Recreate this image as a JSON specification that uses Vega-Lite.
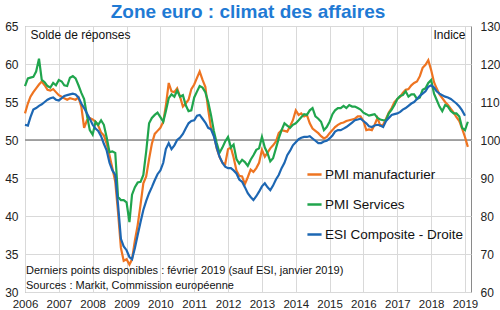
{
"$schema":"https://vega.github.io/schema/vega-lite/v6.json",
"width":446,"height":266,
"autosize":{"type":"none"},
"padding":{"left":25,"top":26,"right":29,"bottom":18},
"background":"white",
"title":{"text":"Zone euro : climat des affaires","fontSize":19,"fontWeight":"bold","color":"#1f7ad4","font":"Liberation Sans","anchor":"middle","offset":-2},
"config":{"font":"Liberation Sans","view":{"stroke":"#8a8a8a","strokeWidth":1},"axis":{"labelFont":"Liberation Sans","labelColor":"#222","labelFontSize":12,"ticks":false,"domain":false,"gridColor":"#d9d9d9","gridWidth":1,"title":null,"labelOverlap":false,"labelFlush":false}},
"data":{"format":{"parse":{"d":"date:'%Y-%m'"}},"values":[
{"d":"2006-01","PMI manufacturier":53.5,"PMI Services":57.1,"ESI Composite - Droite":104.0},
{"d":"2006-02","PMI manufacturier":54.8,"PMI Services":58.1,"ESI Composite - Droite":103.8},
{"d":"2006-03","PMI manufacturier":55.7,"PMI Services":58.2,"ESI Composite - Droite":106.0},
{"d":"2006-04","PMI manufacturier":56.3,"PMI Services":58.3,"ESI Composite - Droite":108.0},
{"d":"2006-05","PMI manufacturier":56.8,"PMI Services":59.0,"ESI Composite - Droite":108.4},
{"d":"2006-06","PMI manufacturier":57.3,"PMI Services":60.7,"ESI Composite - Droite":109.0},
{"d":"2006-07","PMI manufacturier":57.7,"PMI Services":57.9,"ESI Composite - Droite":109.4},
{"d":"2006-08","PMI manufacturier":57.2,"PMI Services":57.6,"ESI Composite - Droite":110.0},
{"d":"2006-09","PMI manufacturier":56.6,"PMI Services":57.1,"ESI Composite - Droite":110.6},
{"d":"2006-10","PMI manufacturier":56.5,"PMI Services":56.9,"ESI Composite - Droite":111.0},
{"d":"2006-11","PMI manufacturier":56.7,"PMI Services":57.5,"ESI Composite - Droite":111.2},
{"d":"2006-12","PMI manufacturier":56.3,"PMI Services":57.2,"ESI Composite - Droite":110.6},
{"d":"2007-01","PMI manufacturier":55.9,"PMI Services":57.9,"ESI Composite - Droite":110.4},
{"d":"2007-02","PMI manufacturier":55.7,"PMI Services":57.7,"ESI Composite - Droite":111.0},
{"d":"2007-03","PMI manufacturier":55.5,"PMI Services":57.2,"ESI Composite - Droite":111.6},
{"d":"2007-04","PMI manufacturier":55.3,"PMI Services":57.1,"ESI Composite - Droite":111.8},
{"d":"2007-05","PMI manufacturier":55.5,"PMI Services":58.2,"ESI Composite - Droite":112.0},
{"d":"2007-06","PMI manufacturier":55.4,"PMI Services":58.4,"ESI Composite - Droite":112.2},
{"d":"2007-07","PMI manufacturier":55.3,"PMI Services":58.1,"ESI Composite - Droite":112.0},
{"d":"2007-08","PMI manufacturier":55.6,"PMI Services":57.2,"ESI Composite - Droite":111.2},
{"d":"2007-09","PMI manufacturier":54.4,"PMI Services":56.2,"ESI Composite - Droite":109.6},
{"d":"2007-10","PMI manufacturier":51.6,"PMI Services":55.4,"ESI Composite - Droite":108.4},
{"d":"2007-11","PMI manufacturier":52.6,"PMI Services":53.2,"ESI Composite - Droite":107.0},
{"d":"2007-12","PMI manufacturier":52.9,"PMI Services":51.3,"ESI Composite - Droite":105.6},
{"d":"2008-01","PMI manufacturier":52.7,"PMI Services":50.7,"ESI Composite - Droite":104.0},
{"d":"2008-02","PMI manufacturier":52.4,"PMI Services":52.4,"ESI Composite - Droite":103.0},
{"d":"2008-03","PMI manufacturier":51.9,"PMI Services":52.0,"ESI Composite - Droite":102.4},
{"d":"2008-04","PMI manufacturier":51.0,"PMI Services":52.6,"ESI Composite - Droite":101.0},
{"d":"2008-05","PMI manufacturier":50.6,"PMI Services":52.0,"ESI Composite - Droite":99.0},
{"d":"2008-06","PMI manufacturier":49.5,"PMI Services":50.3,"ESI Composite - Droite":97.2},
{"d":"2008-07","PMI manufacturier":48.0,"PMI Services":48.4,"ESI Composite - Droite":94.0},
{"d":"2008-08","PMI manufacturier":46.3,"PMI Services":48.5,"ESI Composite - Droite":92.0},
{"d":"2008-09","PMI manufacturier":44.5,"PMI Services":48.3,"ESI Composite - Droite":90.8},
{"d":"2008-10","PMI manufacturier":40.5,"PMI Services":42.5,"ESI Composite - Droite":83.0},
{"d":"2008-11","PMI manufacturier":35.8,"PMI Services":42.1,"ESI Composite - Droite":74.0},
{"d":"2008-12","PMI manufacturier":34.1,"PMI Services":42.1,"ESI Composite - Droite":72.0},
{"d":"2009-01","PMI manufacturier":34.3,"PMI Services":41.8,"ESI Composite - Droite":71.0},
{"d":"2009-02","PMI manufacturier":33.6,"PMI Services":39.2,"ESI Composite - Droite":69.2},
{"d":"2009-03","PMI manufacturier":34.3,"PMI Services":42.8,"ESI Composite - Droite":68.6},
{"d":"2009-04","PMI manufacturier":36.8,"PMI Services":43.8,"ESI Composite - Droite":71.6},
{"d":"2009-05","PMI manufacturier":38.8,"PMI Services":44.4,"ESI Composite - Droite":75.0},
{"d":"2009-06","PMI manufacturier":41.5,"PMI Services":44.5,"ESI Composite - Droite":78.4},
{"d":"2009-07","PMI manufacturier":44.3,"PMI Services":45.4,"ESI Composite - Droite":81.6},
{"d":"2009-08","PMI manufacturier":45.2,"PMI Services":48.5,"ESI Composite - Droite":84.0},
{"d":"2009-09","PMI manufacturier":47.5,"PMI Services":52.2,"ESI Composite - Droite":86.0},
{"d":"2009-10","PMI manufacturier":49.5,"PMI Services":52.9,"ESI Composite - Droite":87.6},
{"d":"2009-11","PMI manufacturier":50.8,"PMI Services":53.3,"ESI Composite - Droite":89.4},
{"d":"2009-12","PMI manufacturier":51.2,"PMI Services":53.6,"ESI Composite - Droite":91.0},
{"d":"2010-01","PMI manufacturier":51.6,"PMI Services":53.0,"ESI Composite - Droite":92.0},
{"d":"2010-02","PMI manufacturier":52.4,"PMI Services":52.4,"ESI Composite - Droite":94.0},
{"d":"2010-03","PMI manufacturier":54.5,"PMI Services":53.8,"ESI Composite - Droite":97.6},
{"d":"2010-04","PMI manufacturier":57.5,"PMI Services":55.5,"ESI Composite - Droite":99.2},
{"d":"2010-05","PMI manufacturier":56.4,"PMI Services":56.0,"ESI Composite - Droite":97.6},
{"d":"2010-06","PMI manufacturier":56.3,"PMI Services":55.7,"ESI Composite - Droite":98.6},
{"d":"2010-07","PMI manufacturier":56.8,"PMI Services":56.5,"ESI Composite - Droite":100.0},
{"d":"2010-08","PMI manufacturier":55.7,"PMI Services":55.7,"ESI Composite - Droite":100.6},
{"d":"2010-09","PMI manufacturier":54.4,"PMI Services":55.9,"ESI Composite - Droite":101.6},
{"d":"2010-10","PMI manufacturier":54.8,"PMI Services":54.6,"ESI Composite - Droite":103.0},
{"d":"2010-11","PMI manufacturier":55.3,"PMI Services":53.8,"ESI Composite - Droite":104.4},
{"d":"2010-12","PMI manufacturier":56.7,"PMI Services":53.9,"ESI Composite - Droite":105.0},
{"d":"2011-01","PMI manufacturier":57.3,"PMI Services":55.6,"ESI Composite - Droite":105.2},
{"d":"2011-02","PMI manufacturier":58.2,"PMI Services":56.4,"ESI Composite - Droite":106.4},
{"d":"2011-03","PMI manufacturier":59.0,"PMI Services":57.1,"ESI Composite - Droite":106.6},
{"d":"2011-04","PMI manufacturier":57.9,"PMI Services":56.9,"ESI Composite - Droite":105.6},
{"d":"2011-05","PMI manufacturier":57.0,"PMI Services":56.3,"ESI Composite - Droite":104.6},
{"d":"2011-06","PMI manufacturier":54.0,"PMI Services":55.0,"ESI Composite - Droite":103.2},
{"d":"2011-07","PMI manufacturier":51.6,"PMI Services":53.3,"ESI Composite - Droite":102.8},
{"d":"2011-08","PMI manufacturier":50.7,"PMI Services":51.2,"ESI Composite - Droite":101.0},
{"d":"2011-09","PMI manufacturier":48.9,"PMI Services":49.6,"ESI Composite - Droite":98.0},
{"d":"2011-10","PMI manufacturier":47.8,"PMI Services":48.3,"ESI Composite - Droite":95.6},
{"d":"2011-11","PMI manufacturier":47.0,"PMI Services":49.0,"ESI Composite - Droite":94.0},
{"d":"2011-12","PMI manufacturier":46.8,"PMI Services":49.8,"ESI Composite - Droite":93.0},
{"d":"2012-01","PMI manufacturier":48.8,"PMI Services":50.4,"ESI Composite - Droite":92.6},
{"d":"2012-02","PMI manufacturier":49.0,"PMI Services":49.0,"ESI Composite - Droite":92.6},
{"d":"2012-03","PMI manufacturier":47.7,"PMI Services":49.4,"ESI Composite - Droite":92.0},
{"d":"2012-04","PMI manufacturier":46.0,"PMI Services":47.5,"ESI Composite - Droite":91.2},
{"d":"2012-05","PMI manufacturier":45.3,"PMI Services":46.9,"ESI Composite - Droite":89.6},
{"d":"2012-06","PMI manufacturier":45.2,"PMI Services":47.4,"ESI Composite - Droite":89.0},
{"d":"2012-07","PMI manufacturier":44.2,"PMI Services":47.1,"ESI Composite - Droite":87.6},
{"d":"2012-08","PMI manufacturier":45.1,"PMI Services":46.6,"ESI Composite - Droite":86.0},
{"d":"2012-09","PMI manufacturier":46.1,"PMI Services":47.4,"ESI Composite - Droite":85.0},
{"d":"2012-10","PMI manufacturier":45.8,"PMI Services":48.0,"ESI Composite - Droite":84.2},
{"d":"2012-11","PMI manufacturier":46.3,"PMI Services":48.7,"ESI Composite - Droite":85.2},
{"d":"2012-12","PMI manufacturier":47.0,"PMI Services":48.9,"ESI Composite - Droite":86.4},
{"d":"2013-01","PMI manufacturier":48.7,"PMI Services":50.4,"ESI Composite - Droite":87.8},
{"d":"2013-02","PMI manufacturier":47.8,"PMI Services":49.0,"ESI Composite - Droite":88.6},
{"d":"2013-03","PMI manufacturier":48.3,"PMI Services":48.3,"ESI Composite - Droite":87.6},
{"d":"2013-04","PMI manufacturier":48.9,"PMI Services":47.2,"ESI Composite - Droite":86.8},
{"d":"2013-05","PMI manufacturier":49.3,"PMI Services":47.6,"ESI Composite - Droite":88.0},
{"d":"2013-06","PMI manufacturier":49.8,"PMI Services":48.9,"ESI Composite - Droite":89.6},
{"d":"2013-07","PMI manufacturier":50.9,"PMI Services":50.2,"ESI Composite - Droite":90.8},
{"d":"2013-08","PMI manufacturier":51.3,"PMI Services":51.3,"ESI Composite - Droite":92.6},
{"d":"2013-09","PMI manufacturier":51.2,"PMI Services":52.2,"ESI Composite - Droite":94.0},
{"d":"2013-10","PMI manufacturier":51.1,"PMI Services":51.9,"ESI Composite - Droite":96.0},
{"d":"2013-11","PMI manufacturier":51.8,"PMI Services":51.6,"ESI Composite - Droite":97.2},
{"d":"2013-12","PMI manufacturier":52.6,"PMI Services":52.0,"ESI Composite - Droite":98.6},
{"d":"2014-01","PMI manufacturier":53.9,"PMI Services":52.2,"ESI Composite - Droite":99.4},
{"d":"2014-02","PMI manufacturier":53.3,"PMI Services":52.6,"ESI Composite - Droite":100.2},
{"d":"2014-03","PMI manufacturier":53.5,"PMI Services":53.0,"ESI Composite - Droite":100.6},
{"d":"2014-04","PMI manufacturier":53.1,"PMI Services":53.4,"ESI Composite - Droite":100.8},
{"d":"2014-05","PMI manufacturier":53.3,"PMI Services":53.3,"ESI Composite - Droite":100.8},
{"d":"2014-06","PMI manufacturier":52.2,"PMI Services":53.9,"ESI Composite - Droite":101.0},
{"d":"2014-07","PMI manufacturier":51.5,"PMI Services":54.2,"ESI Composite - Droite":100.4},
{"d":"2014-08","PMI manufacturier":51.2,"PMI Services":53.1,"ESI Composite - Droite":99.8},
{"d":"2014-09","PMI manufacturier":50.9,"PMI Services":52.8,"ESI Composite - Droite":99.2},
{"d":"2014-10","PMI manufacturier":50.5,"PMI Services":52.4,"ESI Composite - Droite":99.2},
{"d":"2014-11","PMI manufacturier":50.2,"PMI Services":51.3,"ESI Composite - Droite":99.6},
{"d":"2014-12","PMI manufacturier":50.4,"PMI Services":51.7,"ESI Composite - Droite":99.8},
{"d":"2015-01","PMI manufacturier":50.9,"PMI Services":52.4,"ESI Composite - Droite":100.4},
{"d":"2015-02","PMI manufacturier":51.3,"PMI Services":53.4,"ESI Composite - Droite":101.2},
{"d":"2015-03","PMI manufacturier":51.7,"PMI Services":53.9,"ESI Composite - Droite":102.2},
{"d":"2015-04","PMI manufacturier":52.0,"PMI Services":54.2,"ESI Composite - Droite":102.6},
{"d":"2015-05","PMI manufacturier":52.2,"PMI Services":54.2,"ESI Composite - Droite":102.6},
{"d":"2015-06","PMI manufacturier":52.3,"PMI Services":54.5,"ESI Composite - Droite":103.0},
{"d":"2015-07","PMI manufacturier":52.5,"PMI Services":54.2,"ESI Composite - Droite":103.4},
{"d":"2015-08","PMI manufacturier":52.6,"PMI Services":54.6,"ESI Composite - Droite":104.0},
{"d":"2015-09","PMI manufacturier":52.7,"PMI Services":54.4,"ESI Composite - Droite":104.6},
{"d":"2015-10","PMI manufacturier":52.8,"PMI Services":54.4,"ESI Composite - Droite":105.2},
{"d":"2015-11","PMI manufacturier":53.1,"PMI Services":54.2,"ESI Composite - Droite":105.4},
{"d":"2015-12","PMI manufacturier":53.1,"PMI Services":54.0,"ESI Composite - Droite":105.6},
{"d":"2016-01","PMI manufacturier":52.5,"PMI Services":53.6,"ESI Composite - Droite":105.0},
{"d":"2016-02","PMI manufacturier":51.3,"PMI Services":53.4,"ESI Composite - Droite":104.4},
{"d":"2016-03","PMI manufacturier":51.4,"PMI Services":53.2,"ESI Composite - Droite":103.6},
{"d":"2016-04","PMI manufacturier":51.3,"PMI Services":53.3,"ESI Composite - Droite":103.4},
{"d":"2016-05","PMI manufacturier":52.0,"PMI Services":53.4,"ESI Composite - Droite":103.8},
{"d":"2016-06","PMI manufacturier":52.9,"PMI Services":52.9,"ESI Composite - Droite":104.0},
{"d":"2016-07","PMI manufacturier":51.9,"PMI Services":52.7,"ESI Composite - Droite":103.8},
{"d":"2016-08","PMI manufacturier":52.0,"PMI Services":52.6,"ESI Composite - Droite":103.4},
{"d":"2016-09","PMI manufacturier":52.8,"PMI Services":52.6,"ESI Composite - Droite":105.0},
{"d":"2016-10","PMI manufacturier":53.6,"PMI Services":53.5,"ESI Composite - Droite":105.8},
{"d":"2016-11","PMI manufacturier":54.2,"PMI Services":54.0,"ESI Composite - Droite":106.6},
{"d":"2016-12","PMI manufacturier":55.0,"PMI Services":54.6,"ESI Composite - Droite":106.8},
{"d":"2017-01","PMI manufacturier":55.4,"PMI Services":55.4,"ESI Composite - Droite":107.0},
{"d":"2017-02","PMI manufacturier":55.7,"PMI Services":55.8,"ESI Composite - Droite":107.4},
{"d":"2017-03","PMI manufacturier":56.2,"PMI Services":55.9,"ESI Composite - Droite":108.0},
{"d":"2017-04","PMI manufacturier":56.6,"PMI Services":56.4,"ESI Composite - Droite":108.4},
{"d":"2017-05","PMI manufacturier":56.7,"PMI Services":55.7,"ESI Composite - Droite":109.0},
{"d":"2017-06","PMI manufacturier":57.2,"PMI Services":56.0,"ESI Composite - Droite":109.6},
{"d":"2017-07","PMI manufacturier":57.5,"PMI Services":56.0,"ESI Composite - Droite":110.0},
{"d":"2017-08","PMI manufacturier":57.7,"PMI Services":55.4,"ESI Composite - Droite":110.8},
{"d":"2017-09","PMI manufacturier":58.4,"PMI Services":55.6,"ESI Composite - Droite":111.6},
{"d":"2017-10","PMI manufacturier":59.5,"PMI Services":56.6,"ESI Composite - Droite":112.2},
{"d":"2017-11","PMI manufacturier":59.9,"PMI Services":56.8,"ESI Composite - Droite":112.8},
{"d":"2017-12","PMI manufacturier":60.5,"PMI Services":57.5,"ESI Composite - Droite":114.0},
{"d":"2018-01","PMI manufacturier":59.2,"PMI Services":57.9,"ESI Composite - Droite":114.4},
{"d":"2018-02","PMI manufacturier":57.6,"PMI Services":56.1,"ESI Composite - Droite":113.8},
{"d":"2018-03","PMI manufacturier":56.8,"PMI Services":55.3,"ESI Composite - Droite":112.8},
{"d":"2018-04","PMI manufacturier":56.0,"PMI Services":54.4,"ESI Composite - Droite":112.2},
{"d":"2018-05","PMI manufacturier":55.5,"PMI Services":53.8,"ESI Composite - Droite":111.8},
{"d":"2018-06","PMI manufacturier":55.0,"PMI Services":54.6,"ESI Composite - Droite":111.4},
{"d":"2018-07","PMI manufacturier":54.6,"PMI Services":54.4,"ESI Composite - Droite":111.2},
{"d":"2018-08","PMI manufacturier":54.1,"PMI Services":53.8,"ESI Composite - Droite":110.8},
{"d":"2018-09","PMI manufacturier":53.6,"PMI Services":53.5,"ESI Composite - Droite":110.2},
{"d":"2018-10","PMI manufacturier":53.0,"PMI Services":53.5,"ESI Composite - Droite":109.6},
{"d":"2018-11","PMI manufacturier":52.5,"PMI Services":53.1,"ESI Composite - Droite":108.8},
{"d":"2018-12","PMI manufacturier":51.5,"PMI Services":51.6,"ESI Composite - Droite":107.8},
{"d":"2019-01","PMI manufacturier":50.4,"PMI Services":51.3,"ESI Composite - Droite":106.4},
{"d":"2019-02","PMI manufacturier":49.1,"PMI Services":52.4,"ESI Composite - Droite":null}
]},
"layer":[
 {"layer":[
   {"data":{"values":[{"v":50}]},"mark":{"type":"rule","color":"#8a8a8a","strokeWidth":1.5},"encoding":{"y":{"field":"v","type":"quantitative","axis":{"values":[30,35,40,45,50,55,60,65],"labelPadding":7,"grid":true}}}},
   {"transform":[{"fold":["PMI manufacturier","PMI Services"],"as":["series","value"]}],
    "mark":{"type":"line","strokeWidth":2.2},
    "encoding":{
     "x":{"field":"d","type":"temporal","scale":{"domain":[{"year":2006,"month":1,"date":1},{"year":2019,"month":3,"date":7}],"nice":false},"axis":{"format":"%Y","tickCount":{"interval":"year","step":1},"labelFontSize":11.5,"labelPadding":6,"grid":true}},
     "y":{"field":"value","type":"quantitative","scale":{"domain":[30,65],"nice":false,"zero":false},"axis":{"values":[30,35,40,45,50,55,60,65],"labelPadding":7,"grid":true}},
     "color":{"field":"series","type":"nominal","scale":{"domain":["PMI manufacturier","PMI Services","ESI Composite - Droite"],"range":["#ee7421","#20a54d","#1d67b3"]},
       "legend":{"orient":"none","legendX":281,"legendY":140,"title":null,"symbolType":"stroke","symbolSize":200,"symbolStrokeWidth":2.5,"labelFontSize":13.5,"labelColor":"#111","rowPadding":15,"labelOffset":2,"padding":0}}
    }},
   {"data":{"values":[{"t":"Solde de réponses"}]},"mark":{"type":"text","align":"left","baseline":"middle","fontSize":12,"color":"#111"},"encoding":{"x":{"datum":{"year":2006,"month":3,"date":1},"type":"temporal"},"y":{"datum":63.8,"type":"quantitative","axis":{"values":[30,35,40,45,50,55,60,65],"labelPadding":7,"grid":true}},"text":{"field":"t"}}},
   {"data":{"values":[{"t":"Indice"}]},"mark":{"type":"text","align":"right","baseline":"middle","fontSize":12,"color":"#111"},"encoding":{"x":{"datum":{"year":2019,"month":1,"date":7},"type":"temporal"},"y":{"datum":63.8,"type":"quantitative","axis":{"values":[30,35,40,45,50,55,60,65],"labelPadding":7,"grid":true}},"text":{"field":"t"}}},
   {"data":{"values":[{"t":"Derniers points disponibles : février 2019 (sauf ESI, janvier 2019)","v":32.7},{"t":"Sources : Markit, Commission européenne","v":30.85}]},"mark":{"type":"text","align":"left","baseline":"middle","fontSize":11,"color":"#111"},"encoding":{"x":{"datum":{"year":2006,"month":1,"date":12},"type":"temporal"},"y":{"field":"v","type":"quantitative","axis":{"values":[30,35,40,45,50,55,60,65],"labelPadding":7,"grid":true}},"text":{"field":"t"}}}
 ]},
 {"transform":[{"fold":["ESI Composite - Droite"],"as":["series","value"]}],
  "mark":{"type":"line","strokeWidth":2.2},
  "encoding":{
   "x":{"field":"d","type":"temporal"},
   "y":{"field":"value","type":"quantitative","scale":{"domain":[60,130],"nice":false,"zero":false},"axis":{"orient":"right","values":[60,70,80,90,100,110,120,130],"grid":false,"labelPadding":9}},
   "color":{"field":"series","type":"nominal"}
  }}
],
"resolve":{"scale":{"y":"independent"}}
}
